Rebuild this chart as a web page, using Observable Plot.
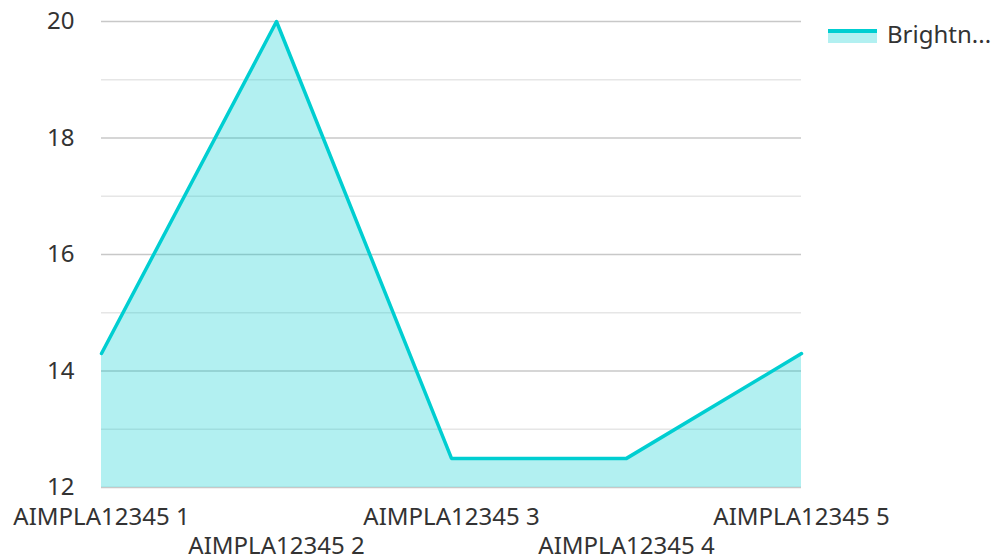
<!DOCTYPE html>
<html>
<head>
<meta charset="utf-8">
<script src="https://cdn.jsdelivr.net/npm/d3@7"></script>
<script src="https://cdn.jsdelivr.net/npm/@observablehq/plot@0.6"></script>
<style>
  html, body { margin: 0; padding: 0; background: #fff; }
  #wrap { position: relative; width: 996px; height: 560px; font-family: "Noto Sans", sans-serif; }
  #legend { position: absolute; left: 828px; top: 16px; display: flex; align-items: center; font-size: 24px; color: #333; line-height: 36px; }
  #legend .sw { width: 49px; height: 14px; background: #b2f0f1; border-top: 4px solid #00ced1; box-sizing: border-box; margin-right: 10px; margin-top: 4px; }
</style>
</head>
<body>
<div id="wrap">
  <div id="chart"></div>
  <div id="legend"><div class="sw"></div><span>Brightn...</span></div>
</div>
<script>
const categories = ["AIMPLA12345 1", "AIMPLA12345 2", "AIMPLA12345 3", "AIMPLA12345 4", "AIMPLA12345 5"];
const values = [14.3, 20, 12.5, 12.5, 14.3];
const seriesName = "Brightness";
const majorTicks = [12, 14, 16, 18, 20];
const minorTicks = [13, 15, 17, 19];

const data = categories.map((c, i) => ({name: c, value: values[i], idx: i}));

const chart = Plot.plot({
  width: 996,
  height: 560,
  marginLeft: 101,
  marginRight: 195,
  marginTop: 21,
  marginBottom: 73,
  style: {fontFamily: "Noto Sans, sans-serif", fontSize: "24px", color: "#333", background: "#fff"},
  x: {type: "point", domain: categories, padding: 0, axis: null},
  y: {domain: [12, 20], ticks: majorTicks, tickSize: 0, tickPadding: 27, label: null, tickFormat: d => String(d)},
  marks: [
    Plot.ruleY(minorTicks, {stroke: "#e6e6e6", strokeWidth: 1.5}),
    Plot.ruleY(majorTicks, {stroke: "#c8c8c8", strokeWidth: 1.5}),
    Plot.areaY(data, {x: "name", y1: 12, y2: "value", fill: "#00ced1", fillOpacity: 0.3}),
    Plot.lineY(data, {x: "name", y: "value", stroke: "#00ced1", strokeWidth: 3.5}),
    Plot.text(data.filter(d => d.idx % 2 === 0), {x: "name", y: 12, text: "name", dy: 30, fontSize: 24, fill: "#333"}),
    Plot.text(data.filter(d => d.idx % 2 === 1), {x: "name", y: 12, text: "name", dy: 59, fontSize: 24, fill: "#333"})
  ]
});
document.getElementById("chart").appendChild(chart);
</script>
</body>
</html>
